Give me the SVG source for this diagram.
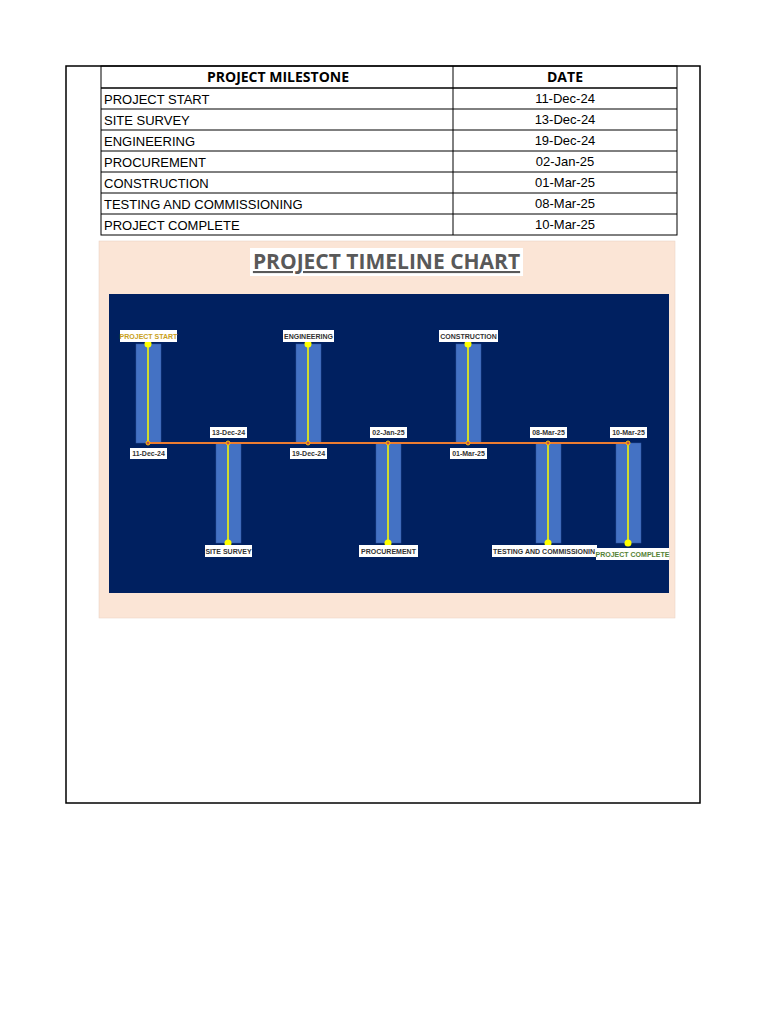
<svg xmlns="http://www.w3.org/2000/svg" width="768" height="1024" viewBox="0 0 768 1024">
<style>
.t{font-family:"Liberation Sans",Arial,sans-serif;font-size:13px;fill:#000}
.h{font-family:"Open Sans","Liberation Sans",sans-serif;font-size:14px;font-weight:bold;fill:#000}
.c{font-family:"Liberation Sans",Arial,sans-serif;font-size:7px;font-weight:bold;fill:#333;text-anchor:middle}
.lb{fill:#fff}
.bar{fill:#4472c4;stroke:#2f55a0;stroke-width:0.5}
.st{stroke:#ffff00;stroke-width:1.5}
.dot{fill:#ffff00}
.dd{fill:#c0504d;stroke:#ffc000;stroke-width:1}
</style>
<rect width="768" height="1024" fill="#fff"/>
<rect x="66" y="66" width="634" height="737" fill="none" stroke="#000" stroke-width="1.5"/>
<g id="table" fill="none" stroke="#000" stroke-width="1">
<rect x="101" y="66" width="576" height="169"/>
<line x1="453" y1="66" x2="453" y2="235"/>
<line x1="101" y1="88" x2="677" y2="88" stroke-width="1.5"/>
<line x1="101" y1="109" x2="677" y2="109"/>
<line x1="101" y1="130" x2="677" y2="130"/>
<line x1="101" y1="151" x2="677" y2="151"/>
<line x1="101" y1="172" x2="677" y2="172"/>
<line x1="101" y1="193" x2="677" y2="193"/>
<line x1="101" y1="214" x2="677" y2="214"/>
</g>
<g id="table-text">
<text class="h" x="278" y="82" text-anchor="middle">PROJECT MILESTONE</text>
<text class="h" x="565" y="82" text-anchor="middle">DATE</text>
<text class="t" x="104" y="104">PROJECT START</text><text class="t" x="565" y="103" text-anchor="middle">11-Dec-24</text>
<text class="t" x="104" y="125">SITE SURVEY</text><text class="t" x="565" y="124" text-anchor="middle">13-Dec-24</text>
<text class="t" x="104" y="146">ENGINEERING</text><text class="t" x="565" y="145" text-anchor="middle">19-Dec-24</text>
<text class="t" x="104" y="167">PROCUREMENT</text><text class="t" x="565" y="166" text-anchor="middle">02-Jan-25</text>
<text class="t" x="104" y="188">CONSTRUCTION</text><text class="t" x="565" y="187" text-anchor="middle">01-Mar-25</text>
<text class="t" x="104" y="209">TESTING AND COMMISSIONING</text><text class="t" x="565" y="208" text-anchor="middle">08-Mar-25</text>
<text class="t" x="104" y="230">PROJECT COMPLETE</text><text class="t" x="565" y="229" text-anchor="middle">10-Mar-25</text>
</g>
<rect x="99" y="241" width="576" height="377" fill="#fbe5d6" stroke="#e8d0c0" stroke-width="0.5"/>
<rect x="250" y="248" width="273" height="28" fill="#fff"/>
<text x="386.5" y="269" text-anchor="middle" font-family="'Open Sans','Liberation Sans',sans-serif" font-size="21" font-weight="bold" fill="#595959" text-decoration="underline">PROJECT TIMELINE CHART</text>
<rect x="109" y="294" width="560" height="299" fill="#002060"/>
<g id="bars">
<rect class="bar" x="136" y="344" width="25" height="99"/>
<rect class="bar" x="216" y="443" width="25" height="100"/>
<rect class="bar" x="296" y="344" width="25" height="99"/>
<rect class="bar" x="376" y="443" width="25" height="100"/>
<rect class="bar" x="456" y="344" width="25" height="99"/>
<rect class="bar" x="536" y="443" width="25" height="100"/>
<rect class="bar" x="616" y="443" width="25" height="100"/>
</g>
<g id="connectors">
<line x1="148" y1="443" x2="628" y2="443" stroke="#ed7d31" stroke-width="2"/>
<line class="st" x1="148" y1="344" x2="148" y2="443"/>
<line class="st" x1="228" y1="443" x2="228" y2="543"/>
<line class="st" x1="308" y1="344" x2="308" y2="443"/>
<line class="st" x1="388" y1="443" x2="388" y2="543"/>
<line class="st" x1="468" y1="344" x2="468" y2="443"/>
<line class="st" x1="548" y1="443" x2="548" y2="543"/>
<line class="st" x1="628" y1="443" x2="628" y2="543"/>
</g>
<g id="dots">
<circle class="dot" cx="148" cy="344" r="3.5"/><circle class="dot" cx="228" cy="543" r="3.5"/>
<circle class="dot" cx="308" cy="344" r="3.5"/><circle class="dot" cx="388" cy="543" r="3.5"/>
<circle class="dot" cx="468" cy="344" r="3.5"/><circle class="dot" cx="548" cy="543" r="3.5"/>
<circle class="dot" cx="628" cy="543" r="3.5"/>
<circle class="dd" cx="148" cy="443" r="2"/><circle class="dd" cx="228" cy="443" r="2"/>
<circle class="dd" cx="308" cy="443" r="2"/><circle class="dd" cx="388" cy="443" r="2"/>
<circle class="dd" cx="468" cy="443" r="2"/><circle class="dd" cx="548" cy="443" r="2"/>
<circle class="dd" cx="628" cy="443" r="2"/>
</g>
<g id="n1"><rect class="lb" x="120" y="330" width="57" height="12"/><text class="c" x="148.5" y="339" style="fill:#c9a020">PROJECT START</text>
<rect class="lb" x="130" y="448" width="37" height="11"/><text class="c" x="148.5" y="456">11-Dec-24</text></g>
<g id="n2"><rect class="lb" x="210" y="427" width="37" height="11"/><text class="c" x="228.5" y="435">13-Dec-24</text>
<rect class="lb" x="205" y="545" width="47" height="12"/><text class="c" x="228.5" y="554">SITE SURVEY</text></g>
<g id="n3"><rect class="lb" x="283" y="330" width="51" height="12"/><text class="c" x="308.5" y="339">ENGINEERING</text>
<rect class="lb" x="290" y="448" width="37" height="11"/><text class="c" x="308.5" y="456">19-Dec-24</text></g>
<g id="n4"><rect class="lb" x="370" y="427" width="37" height="11"/><text class="c" x="388.5" y="435">02-Jan-25</text>
<rect class="lb" x="359" y="545" width="59" height="12"/><text class="c" x="388.5" y="554">PROCUREMENT</text></g>
<g id="n5"><rect class="lb" x="439" y="330" width="59" height="12"/><text class="c" x="468.5" y="339">CONSTRUCTION</text>
<rect class="lb" x="450" y="448" width="37" height="11"/><text class="c" x="468.5" y="456">01-Mar-25</text></g>
<g id="n6"><rect class="lb" x="530" y="427" width="37" height="11"/><text class="c" x="548.5" y="435">08-Mar-25</text>
<rect class="lb" x="492" y="545" width="105" height="12"/><text class="c" x="544" y="554">TESTING AND COMMISSIONIN</text></g>
<g id="n7"><rect class="lb" x="610" y="427" width="37" height="11"/><text class="c" x="628.5" y="435">10-Mar-25</text>
<rect class="lb" x="596" y="548" width="73" height="12"/><text class="c" x="632.5" y="557" style="fill:#548235">PROJECT COMPLETE</text></g>
</svg>
